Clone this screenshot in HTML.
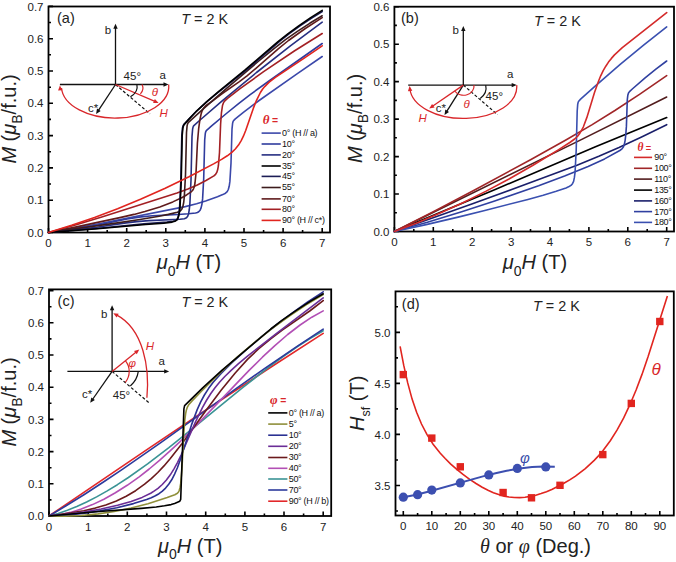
<!DOCTYPE html>
<html><head><meta charset="utf-8"><style>
html,body{margin:0;padding:0;background:#fff;width:676px;height:562px;overflow:hidden}
svg{display:block}
text{font-family:"Liberation Sans", sans-serif;fill:#222}
.tk{font-size:11.5px}
.lab{font-size:20px}
.t2k{font-size:14.4px}
.pl{font-size:14.5px}
.lg{font-size:9px;letter-spacing:-0.3px;fill:#111}
.ins{font-size:11.5px}
.red{fill:#d9262a}
.lgt{fill:#d9262a}
</style></head><body>
<svg width="676" height="562" viewBox="0 0 676 562">
<rect x="48.5" y="6.5" width="281.5" height="226" fill="none" stroke="#000" stroke-width="1.8"/>
<path d="M48.5 232.5V228M87.6 232.5V228M126.7 232.5V228M165.8 232.5V228M204.9 232.5V228M244 232.5V228M283.1 232.5V228M322.2 232.5V228M68 232.5V230M107.2 232.5V230M146.2 232.5V230M185.3 232.5V230M224.5 232.5V230M263.6 232.5V230M302.6 232.5V230M48.5 232.5H53M48.5 200.2H53M48.5 167.9H53M48.5 135.6H53M48.5 103.3H53M48.5 71H53M48.5 38.7H53M48.5 6.4H53M48.5 216.3H51M48.5 184H51M48.5 151.8H51M48.5 119.4H51M48.5 87.2H51M48.5 54.8H51M48.5 22.5H51" stroke="#000" stroke-width="1.6" fill="none"/>
<text x="48.5" y="247" text-anchor="middle" class="tk">0</text>
<text x="87.6" y="247" text-anchor="middle" class="tk">1</text>
<text x="126.7" y="247" text-anchor="middle" class="tk">2</text>
<text x="165.8" y="247" text-anchor="middle" class="tk">3</text>
<text x="204.9" y="247" text-anchor="middle" class="tk">4</text>
<text x="244" y="247" text-anchor="middle" class="tk">5</text>
<text x="283.1" y="247" text-anchor="middle" class="tk">6</text>
<text x="322.2" y="247" text-anchor="middle" class="tk">7</text>
<text x="43.5" y="236.6" text-anchor="end" class="tk">0.0</text>
<text x="43.5" y="204.3" text-anchor="end" class="tk">0.1</text>
<text x="43.5" y="172" text-anchor="end" class="tk">0.2</text>
<text x="43.5" y="139.7" text-anchor="end" class="tk">0.3</text>
<text x="43.5" y="107.4" text-anchor="end" class="tk">0.4</text>
<text x="43.5" y="75.1" text-anchor="end" class="tk">0.5</text>
<text x="43.5" y="42.8" text-anchor="end" class="tk">0.6</text>
<text x="43.5" y="10.5" text-anchor="end" class="tk">0.7</text>
<path d="M48.5 232.5L73.6 228.3L99.1 223.7L185.2 206.6L196.6 203.8L205.6 201.1L217.5 196.8L222.8 194.6L225.5 193.2L227.2 191.7L228.3 189.5L229.2 186.3L229.9 181.4L231 163.1L232 129.1L232.6 123.3L233 121.7L233.6 120.6L235.3 118.9L243.7 112.1L259.8 100L297 73.9L322.2 56.5" stroke="#3b48aa" stroke-width="1.6" fill="none" stroke-linejoin="round" stroke-linecap="round"/>
<path d="M48.5 232.5L72.3 229.1L96.7 225.2L127.2 219L139 217.1L152.4 215.8L178.2 214.5L188.3 213.8L195.6 213L197.4 212.5L198.7 211.8L200.1 210.3L201.1 207.9L201.9 204.3L202.6 198.9L203.7 178.5L204.7 140L205.3 133.5L205.7 131.8L206.3 130.6L211.9 125.6L227 113L238.9 103.4L250.2 94.6L269.7 80.5L322.2 43.5" stroke="#303c9e" stroke-width="1.6" fill="none" stroke-linejoin="round" stroke-linecap="round"/>
<path d="M48.5 232.5L96.6 227.2L126.2 222.9L136.9 221.6L148.8 220.6L180 219.2L184.4 218.7L186.5 217.8L187.7 216.3L188.6 213.7L189.3 209.5L189.9 203.5L191 180.2L192 136.6L192.6 129.2L193 127.3L193.6 125.9L200.1 120L221.6 101.4L256.5 72.5L290.7 45.6L322.2 22.2" stroke="#262f82" stroke-width="1.6" fill="none" stroke-linejoin="round" stroke-linecap="round"/>
<path d="M48.5 232.5L75.4 224.9L102.6 216.7L177 192.9L187.9 188.9L197.3 185L206 180.5L213.9 175.9L215.6 174.3L216.8 172.4L217.7 169.6L218.4 165.7L219.5 152.6L220.6 124.3L221.4 113.2L222.5 105.5L223.3 103.2L224.3 101.4L227.5 98.4L239.7 88.9L263.6 71.7L294.3 51L322.2 33.5" stroke="#a32024" stroke-width="1.6" fill="none" stroke-linejoin="round" stroke-linecap="round"/>
<path d="M48.5 232.5L75.3 227.1L121 217.4L134 214.4L144.9 211.5L159.8 206.9L172.8 201.9L182.2 197.5L186.9 194.7L190.8 192.1L192.5 190.5L193.5 188.8L194.4 186.4L195 183L196 173.1L197.4 143.3L198.7 128.3L199.8 120.3L201.1 114L202.2 110.5L203.7 108.1L205.3 106.2L207.2 104.6L211.6 101.6L221.6 94L239.4 81.6L247 75.9L256.5 67.9L278.2 48.8L288.5 40.5L305.3 28.5L322.2 17.7" stroke="#5f1b1c" stroke-width="1.6" fill="none" stroke-linejoin="round" stroke-linecap="round"/>
<path d="M48.5 232.5L114.1 223.4L139.9 219.5L159.1 216.2L168.4 214.4L177.3 212.2L179.1 211.5L180.5 210.7L181.9 209L182.9 206.4L183.7 202.5L184.3 196.8L185.5 174.8L186.5 132.5L187.1 125.7L187.6 123.9L188.2 122.7L203 109.1L226 88.8L258.2 61.5L274 48.6L285.5 39.7L297 31.6L309.7 23.3L322.2 15.8" stroke="#3d1c1d" stroke-width="1.6" fill="none" stroke-linejoin="round" stroke-linecap="round"/>
<path d="M48.5 232.5L96.3 228.5L143.9 223.9L166.8 222.1L173.3 221.3L175.1 220.7L176.2 220.1L177.5 218.5L178.4 215.8L179.1 211.6L179.7 205.5L180.8 181.7L181.8 135.4L182.5 127.9L183 126L183.7 124.6L195.1 112.5L206.3 102.2L216.9 93.3L245.2 70.9L280.4 40.7L289.3 33.7L300.4 25.7L311.3 18.4L322.2 11.6" stroke="#1c1d55" stroke-width="1.6" fill="none" stroke-linejoin="round" stroke-linecap="round"/>
<path d="M48.5 232.5L94.6 229L145.6 224.5L163.7 223.2L172.1 222.1L174.8 221.3L176.5 220.4L177.8 218.8L178.7 216.1L179.5 211.9L180.1 205.8L181.2 181.8L182.2 135.5L182.9 128L183.4 126.1L184.1 124.6L189 119.1L196 111.7L207.7 100.8L218.5 91.6L245.1 69.9L277.7 41.9L287.8 33.9L298.7 25.9L310.3 17.9L322.2 10.3" stroke="#000000" stroke-width="1.6" fill="none" stroke-linejoin="round" stroke-linecap="round"/>
<path d="M48.5 232.5L71.6 225.3L94.5 217.5L117.6 208.7L140.5 199.3L164.7 188.5L189 176.8L213.6 163.9L221.6 159.4L227.3 155.8L231.8 152.4L235.3 149L238.5 145.1L241.2 140.6L243.4 136.2L245.7 130.5L253.3 108.4L256.5 100.3L260.4 92.5L262.5 89.3L264.7 86.6L269.2 82.1L275.4 77.3L304.6 57.9L322.2 45.8" stroke="#e1251f" stroke-width="1.6" fill="none" stroke-linejoin="round" stroke-linecap="round"/>
<rect x="394.4" y="6.7" width="279.6" height="224.8" fill="none" stroke="#000" stroke-width="1.8"/>
<path d="M394.4 231.5V227M433.3 231.5V227M472.2 231.5V227M511.1 231.5V227M550 231.5V227M588.9 231.5V227M627.8 231.5V227M666.7 231.5V227M413.8 231.5V229M452.8 231.5V229M491.6 231.5V229M530.5 231.5V229M569.4 231.5V229M608.3 231.5V229M647.2 231.5V229M394.4 231.5H398.9M394.4 194H398.9M394.4 156.6H398.9M394.4 119.1H398.9M394.4 81.6H398.9M394.4 44.2H398.9M394.4 6.7H398.9M394.4 212.8H396.9M394.4 175.3H396.9M394.4 137.8H396.9M394.4 100.4H396.9M394.4 62.9H396.9M394.4 25.4H396.9" stroke="#000" stroke-width="1.6" fill="none"/>
<text x="394.4" y="246" text-anchor="middle" class="tk">0</text>
<text x="433.3" y="246" text-anchor="middle" class="tk">1</text>
<text x="472.2" y="246" text-anchor="middle" class="tk">2</text>
<text x="511.1" y="246" text-anchor="middle" class="tk">3</text>
<text x="550" y="246" text-anchor="middle" class="tk">4</text>
<text x="588.9" y="246" text-anchor="middle" class="tk">5</text>
<text x="627.8" y="246" text-anchor="middle" class="tk">6</text>
<text x="666.7" y="246" text-anchor="middle" class="tk">7</text>
<text x="389.4" y="235.6" text-anchor="end" class="tk">0.0</text>
<text x="389.4" y="198.1" text-anchor="end" class="tk">0.1</text>
<text x="389.4" y="160.7" text-anchor="end" class="tk">0.2</text>
<text x="389.4" y="123.2" text-anchor="end" class="tk">0.3</text>
<text x="389.4" y="85.7" text-anchor="end" class="tk">0.4</text>
<text x="389.4" y="48.3" text-anchor="end" class="tk">0.5</text>
<text x="389.4" y="10.8" text-anchor="end" class="tk">0.6</text>
<path d="M394.4 231.5L495.8 189.2L595.5 146.8L666.7 117.6" stroke="#000000" stroke-width="1.6" fill="none" stroke-linejoin="round" stroke-linecap="round"/>
<path d="M394.4 231.5L580.3 140.1L666.7 97" stroke="#521c1d" stroke-width="1.6" fill="none" stroke-linejoin="round" stroke-linecap="round"/>
<path d="M394.4 231.5L434.3 211.2L474.6 190L531 159.5L566.3 139.8L592.2 124.6L614.9 110.5L639.5 94.4L666.7 75.6" stroke="#a02628" stroke-width="1.6" fill="none" stroke-linejoin="round" stroke-linecap="round"/>
<path d="M394.4 231.5L473.2 203.5L545.4 177.1L576.4 165.4L598.8 156.3L619 147.5L641.6 137L666.7 124.7" stroke="#1a1f6a" stroke-width="1.6" fill="none" stroke-linejoin="round" stroke-linecap="round"/>
<path d="M394.4 231.5L427.4 222.2L461.7 211.7L494.7 200.9L538.6 185.7L564.6 176L588.1 166.4L604.6 158.9L619.8 150.5L622 148.9L623.3 147.1L624.3 144.5L625.1 140.6L625.8 134.6L626.4 126.4L627.3 99.6L627.8 95.3L628.5 93L629.5 91.6L632.3 89L645.1 77.8L656.2 68.9L666.7 61" stroke="#3040a0" stroke-width="1.6" fill="none" stroke-linejoin="round" stroke-linecap="round"/>
<path d="M394.4 231.5L426.1 224.6L458.1 217.1L484.8 210.5L527.9 199.4L543.2 195.2L556.2 191.3L566 187.9L569.1 186.5L571 185.4L572.5 183.7L573.6 181.3L574.4 177.4L575.1 171.8L576.2 150.2L577.2 111L577.7 104.4L578.1 102.5L578.7 101.2L580.6 99.1L594.3 86.9L620.2 64.4L643.6 45.2L666.7 26.9" stroke="#3a50b0" stroke-width="1.6" fill="none" stroke-linejoin="round" stroke-linecap="round"/>
<path d="M394.4 231.5L417.4 222.7L440.1 213.1L462.9 202.7L485.7 191.4L509 179L532.6 165.5L558.7 149.6L569.8 142.5L574.6 139L577.4 136.5L579.5 133.8L581.4 130.7L583.4 126.8L586.9 117.4L594.5 92.6L598.4 81.5L600.7 75.8L603.2 70.6L605.8 66.2L608.5 62.1L611.4 58.4L614.5 54.9L622.3 47.7L666.7 12.6" stroke="#d42a2a" stroke-width="1.6" fill="none" stroke-linejoin="round" stroke-linecap="round"/>
<rect x="49" y="289.4" width="282.2" height="226.6" fill="none" stroke="#000" stroke-width="1.8"/>
<path d="M49 516V511.5M88.2 516V511.5M127.3 516V511.5M166.5 516V511.5M205.7 516V511.5M244.9 516V511.5M284 516V511.5M323.2 516V511.5M68.6 516V513.5M107.8 516V513.5M146.9 516V513.5M186.1 516V513.5M225.3 516V513.5M264.4 516V513.5M303.6 516V513.5M49 516H53.5M49 483.8H53.5M49 451.6H53.5M49 419.4H53.5M49 387.2H53.5M49 355H53.5M49 322.8H53.5M49 290.6H53.5M49 499.9H51.5M49 467.7H51.5M49 435.5H51.5M49 403.3H51.5M49 371.1H51.5M49 338.9H51.5M49 306.7H51.5" stroke="#000" stroke-width="1.6" fill="none"/>
<text x="49" y="530.5" text-anchor="middle" class="tk">0</text>
<text x="88.2" y="530.5" text-anchor="middle" class="tk">1</text>
<text x="127.3" y="530.5" text-anchor="middle" class="tk">2</text>
<text x="166.5" y="530.5" text-anchor="middle" class="tk">3</text>
<text x="205.7" y="530.5" text-anchor="middle" class="tk">4</text>
<text x="244.9" y="530.5" text-anchor="middle" class="tk">5</text>
<text x="284" y="530.5" text-anchor="middle" class="tk">6</text>
<text x="323.2" y="530.5" text-anchor="middle" class="tk">7</text>
<text x="44" y="520.1" text-anchor="end" class="tk">0.0</text>
<text x="44" y="487.9" text-anchor="end" class="tk">0.1</text>
<text x="44" y="455.7" text-anchor="end" class="tk">0.2</text>
<text x="44" y="423.5" text-anchor="end" class="tk">0.3</text>
<text x="44" y="391.3" text-anchor="end" class="tk">0.4</text>
<text x="44" y="359.1" text-anchor="end" class="tk">0.5</text>
<text x="44" y="326.9" text-anchor="end" class="tk">0.6</text>
<text x="44" y="294.7" text-anchor="end" class="tk">0.7</text>
<path d="M49 516L148.4 448.6L211.9 406L270.3 367.5L323.2 333.4" stroke="#e2282a" stroke-width="1.6" fill="none" stroke-linejoin="round" stroke-linecap="round"/>
<path d="M49 516L58.2 513.4L67.4 510.2L76.8 506.5L86.6 502L96.6 496.9L106.8 491.1L117.4 484.7L128.4 477.5L147.6 463.9L168.9 447.6L189.7 430.9L241.7 388.3L269.7 366.4L284.2 355.8L297.9 346.3L310.8 338.1L323.2 330.8" stroke="#3a9395" stroke-width="1.6" fill="none" stroke-linejoin="round" stroke-linecap="round"/>
<path d="M49 516L66.1 505.8L83.9 494.7L102.7 482.5L122.7 469.1L161.5 442.1L235 389.4L264.8 368.4L295.6 347.3L323.2 329.2" stroke="#2c3a9c" stroke-width="1.6" fill="none" stroke-linejoin="round" stroke-linecap="round"/>
<path d="M49 516L59.6 514.7L70.4 512.4L81.3 509L92.5 504.6L103.9 499.2L115.4 492.8L127.2 485.3L139.2 476.8L149.2 469L159.5 460.4L170.1 450.9L180.9 440.8L200.7 420.9L249.1 370.4L262.4 357.2L274.6 345.8L287.7 334.5L300.1 325L311.8 317.2L323.2 310.9" stroke="#b24fb5" stroke-width="1.6" fill="none" stroke-linejoin="round" stroke-linecap="round"/>
<path d="M49 516L71.3 512.8L83.7 510.7L95.3 508.1L105.8 505L116.4 501L126.2 496.3L135.6 490.7L144.6 484.2L151.3 478.6L157.8 472.5L164 465.9L170.3 458.6L182.1 443.5L207.6 408.3L221.3 390.1L235 373.2L247.5 359.4L258.5 348.9L270.7 338.8L282.2 330.2L309.7 311L323.2 300.6" stroke="#6b1a1c" stroke-width="1.6" fill="none" stroke-linejoin="round" stroke-linecap="round"/>
<path d="M49 516L66.4 514.4L83.7 512.1L101.1 509L117.6 505.2L131.1 501.4L142.1 497.4L150.7 493.2L154.4 490.9L158 488.4L162.3 484.5L166.4 480L170.3 474.8L174 468.8L177.6 462.3L181.1 455L195.4 422.1L202.3 407.8L206.4 400.5L210.5 394L214.8 388L219.5 382.2L224.8 376.5L231.1 370.4L238.5 363.7L247.5 356.2L276.3 333.6L323.2 297.9" stroke="#6b2d96" stroke-width="1.6" fill="none" stroke-linejoin="round" stroke-linecap="round"/>
<path d="M49 516L65.9 515.1L82.9 513.4L100 510.9L116.8 507.7L133.5 503.6L146.6 499.6L151.3 497.7L155.4 495.8L159 493.7L162.1 491.4L165.6 488.1L168.7 484.3L171.7 479.8L174.6 474.1L177.4 467.7L180.1 460.2L191.5 424.9L197.2 409.6L200.7 401.9L204.4 395L208.5 388.6L213.2 382.3L221.1 373.4L231.7 362.9L245.8 350.1L261.6 336.7L276.9 324.5L292.4 312.8L307.7 302L323.2 291.8" stroke="#2b3192" stroke-width="1.6" fill="none" stroke-linejoin="round" stroke-linecap="round"/>
<path d="M49 516L65.3 516.2L81.5 515.5L98 513.9L114.3 511.5L131.1 508.1L148 503.7L167.2 497.5L174.8 494.7L177.4 493.3L178.5 492L179.3 490.3L180.1 487.2L180.7 483.4L181.9 469.6L183.8 433.3L184.8 420.1L185.6 413.8L186.4 409.9L187.4 407.1L188.7 404.8L192.1 400.9L201.7 391L220.5 372.5L237.7 356.7L255.2 341.8L272.2 328.4L289.3 316L306.1 304.9L323.2 294.6" stroke="#8f8f3a" stroke-width="1.6" fill="none" stroke-linejoin="round" stroke-linecap="round"/>
<path d="M49 516L95.8 511.7L141.3 508.4L156.2 507L164.5 505.8L171.1 504.6L174.6 503.4L179.8 501.2L180.7 499.3L183.9 408.8L184.6 405.6L202.7 387.9L222.1 370.1L270.8 329L281.9 320.4L296.3 310.4L310.2 301.4L323.2 293.8" stroke="#000000" stroke-width="1.6" fill="none" stroke-linejoin="round" stroke-linecap="round"/>
<rect x="395.5" y="291.4" width="278.3" height="224.1" fill="none" stroke="#000" stroke-width="1.8"/>
<path d="M403.3 515.5V511M431.8 515.5V511M460.3 515.5V511M488.8 515.5V511M517.3 515.5V511M545.8 515.5V511M574.3 515.5V511M602.8 515.5V511M631.3 515.5V511M659.8 515.5V511M417.6 515.5V513M446.1 515.5V513M474.6 515.5V513M503.1 515.5V513M531.5 515.5V513M560 515.5V513M588.5 515.5V513M617 515.5V513M645.5 515.5V513M395.5 485.5H400M395.5 434.4H400M395.5 383.4H400M395.5 332.4H400M395.5 511H398M395.5 460H398M395.5 408.9H398M395.5 357.9H398M395.5 306.8H398" stroke="#000" stroke-width="1.6" fill="none"/>
<text x="403.3" y="530" text-anchor="middle" class="tk">0</text>
<text x="431.8" y="530" text-anchor="middle" class="tk">10</text>
<text x="460.3" y="530" text-anchor="middle" class="tk">20</text>
<text x="488.8" y="530" text-anchor="middle" class="tk">30</text>
<text x="517.3" y="530" text-anchor="middle" class="tk">40</text>
<text x="545.8" y="530" text-anchor="middle" class="tk">50</text>
<text x="574.3" y="530" text-anchor="middle" class="tk">60</text>
<text x="602.8" y="530" text-anchor="middle" class="tk">70</text>
<text x="631.3" y="530" text-anchor="middle" class="tk">80</text>
<text x="659.8" y="530" text-anchor="middle" class="tk">90</text>
<text x="390.5" y="489.6" text-anchor="end" class="tk">3.5</text>
<text x="390.5" y="438.6" text-anchor="end" class="tk">4.0</text>
<text x="390.5" y="387.5" text-anchor="end" class="tk">4.5</text>
<text x="390.5" y="336.5" text-anchor="end" class="tk">5.0</text>
<path d="M400.1 346.4L403.7 365.2L407.7 382.9L412.1 399.1L416.6 412.2L421.5 424L426.9 434.4L433.1 444.2L440.3 453.2L445.2 458.5L450.5 463.8L456.8 469.3L463 474.4L469.7 479.3L476 483.5L482.2 487.3L488 490.3L493.4 492.7L498.7 494.6L504.1 496.1L509 497L514.3 497.5L519.7 497.6L525 497.2L530.4 496.4L535.8 495.2L541.1 493.6L546.5 491.7L552.3 489.3L563.9 483.3L569.7 479.9L575.5 476.1L585.3 468.6L594.2 460.4L598.7 455.6L602.7 451L610.3 440.8L617 430.2L623.7 417.9L629.9 404.7L636.2 389.8L642 374.4L648.2 356.3L667.4 295.9" stroke="#e1251f" stroke-width="1.6" fill="none"/>
<path d="M403.3 497.2L415 494.9L428.1 491.7L482.9 476.4L495.5 473.2L506.7 470.8L519.8 468.5L532 467.1L543.7 466.5L554.8 466.8" stroke="#3c4fb0" stroke-width="2" fill="none"/>
<rect x="399.6" y="370.9" width="7.4" height="7.4" fill="#e1251f"/>
<rect x="428.1" y="434.4" width="7.4" height="7.4" fill="#e1251f"/>
<rect x="456.6" y="463.1" width="7.4" height="7.4" fill="#e1251f"/>
<rect x="499.4" y="488.8" width="7.4" height="7.4" fill="#e1251f"/>
<rect x="527.8" y="494.1" width="7.4" height="7.4" fill="#e1251f"/>
<rect x="556.3" y="481.6" width="7.4" height="7.4" fill="#e1251f"/>
<rect x="599.1" y="450.9" width="7.4" height="7.4" fill="#e1251f"/>
<rect x="627.6" y="399.7" width="7.4" height="7.4" fill="#e1251f"/>
<rect x="656.1" y="317.8" width="7.4" height="7.4" fill="#e1251f"/>
<circle cx="403.3" cy="497.2" r="4.6" fill="#3c4fb0"/>
<circle cx="417.6" cy="494.7" r="4.6" fill="#3c4fb0"/>
<circle cx="431.8" cy="490.1" r="4.6" fill="#3c4fb0"/>
<circle cx="460.3" cy="482.9" r="4.6" fill="#3c4fb0"/>
<circle cx="488.8" cy="474.9" r="4.6" fill="#3c4fb0"/>
<circle cx="517.3" cy="468.4" r="4.6" fill="#3c4fb0"/>
<circle cx="545.8" cy="466.9" r="4.6" fill="#3c4fb0"/>
<text transform="translate(16.2,119) rotate(-90)" class="lab" text-anchor="middle"><tspan font-style="italic">M</tspan> (<tspan font-style="italic">μ</tspan><tspan font-size="14" dy="6">B</tspan><tspan dy="-6">/f.u.)</tspan></text>
<text transform="translate(361.5,118.5) rotate(-90)" class="lab" text-anchor="middle"><tspan font-style="italic">M</tspan> (<tspan font-style="italic">μ</tspan><tspan font-size="14" dy="6">B</tspan><tspan dy="-6">/f.u.)</tspan></text>
<text transform="translate(16.2,402) rotate(-90)" class="lab" text-anchor="middle"><tspan font-style="italic">M</tspan> (<tspan font-style="italic">μ</tspan><tspan font-size="14" dy="6">B</tspan><tspan dy="-6">/f.u.)</tspan></text>
<text transform="translate(364.2,403.3) rotate(-90)" class="lab" text-anchor="middle"><tspan font-style="italic">H</tspan><tspan font-size="12.5" dy="6">sf</tspan><tspan dy="-6"> (T)</tspan></text>
<text x="188.9" y="269.4" class="lab" text-anchor="middle"><tspan font-style="italic">μ</tspan><tspan font-size="14" dy="6.5">0</tspan><tspan dy="-6.5" font-style="italic">H</tspan> (T)</text>
<text x="535" y="269.4" class="lab" text-anchor="middle"><tspan font-style="italic">μ</tspan><tspan font-size="14" dy="6.5">0</tspan><tspan dy="-6.5" font-style="italic">H</tspan> (T)</text>
<text x="190.2" y="552.8" class="lab" text-anchor="middle"><tspan font-style="italic">μ</tspan><tspan font-size="14" dy="6.5">0</tspan><tspan dy="-6.5" font-style="italic">H</tspan> (T)</text>
<text x="535.5" y="553.4" class="lab" text-anchor="middle"><tspan font-family="Liberation Serif" font-style="italic">θ</tspan> or <tspan font-family="Liberation Serif" font-style="italic">φ</tspan> (Deg.)</text>
<text x="181.2" y="23.7" class="t2k" text-anchor="start" ><tspan font-style="italic">T</tspan> = 2 K</text>
<text x="534" y="26" class="t2k" text-anchor="start" ><tspan font-style="italic">T</tspan> = 2 K</text>
<text x="181.4" y="306.7" class="t2k" text-anchor="start" ><tspan font-style="italic">T</tspan> = 2 K</text>
<text x="533" y="310.8" class="t2k" text-anchor="start" ><tspan font-style="italic">T</tspan> = 2 K</text>
<text x="57" y="23" class="pl" text-anchor="start" >(a)</text>
<text x="401" y="23.2" class="pl" text-anchor="start" >(b)</text>
<text x="57.6" y="305.6" class="pl" text-anchor="start" >(c)</text>
<text x="401.8" y="308.6" class="pl" text-anchor="start" >(d)</text>
<path d="M261.6 133.1H280.8" stroke="#3b48aa" stroke-width="1.6"/>
<text x="282" y="136" class="lg" text-anchor="start" >0° (H // a)</text>
<path d="M261.6 144H280.8" stroke="#303c9e" stroke-width="1.6"/>
<text x="282" y="146.9" class="lg" text-anchor="start" >10°</text>
<path d="M261.6 154.9H280.8" stroke="#262f82" stroke-width="1.6"/>
<text x="282" y="157.8" class="lg" text-anchor="start" >20°</text>
<path d="M261.6 166H280.8" stroke="#000" stroke-width="1.6"/>
<text x="282" y="168.9" class="lg" text-anchor="start" >35°</text>
<path d="M261.6 176.4H280.8" stroke="#1c1d55" stroke-width="1.6"/>
<text x="282" y="179.3" class="lg" text-anchor="start" >45°</text>
<path d="M261.6 187.5H280.8" stroke="#3d1c1d" stroke-width="1.6"/>
<text x="282" y="190.4" class="lg" text-anchor="start" >55°</text>
<path d="M261.6 198.9H280.8" stroke="#5f1b1c" stroke-width="1.6"/>
<text x="282" y="201.8" class="lg" text-anchor="start" >70°</text>
<path d="M261.6 209.3H280.8" stroke="#a32024" stroke-width="1.6"/>
<text x="282" y="212.2" class="lg" text-anchor="start" >80°</text>
<path d="M261.6 220.4H280.8" stroke="#e1251f" stroke-width="1.6"/>
<text x="282" y="223.3" class="lg" text-anchor="start" >90° (H // c*)</text>
<text x="262.7" y="124.2" class="lgt" text-anchor="start" font-size="13"><tspan font-family="Liberation Serif" font-style="italic" font-weight="bold">θ</tspan><tspan font-weight="bold" font-size="10.4" dx="2.6">=</tspan></text>
<path d="M634 157.4H652.1" stroke="#d42a2a" stroke-width="1.6"/>
<text x="654.2" y="160.3" class="lg" text-anchor="start" >90°</text>
<path d="M634 168.3H652.1" stroke="#a02628" stroke-width="1.6"/>
<text x="654.2" y="171.2" class="lg" text-anchor="start" >100°</text>
<path d="M634 179.1H652.1" stroke="#521c1d" stroke-width="1.6"/>
<text x="654.2" y="182" class="lg" text-anchor="start" >110°</text>
<path d="M634 190.1H652.1" stroke="#000" stroke-width="1.6"/>
<text x="654.2" y="193" class="lg" text-anchor="start" >135°</text>
<path d="M634 200.9H652.1" stroke="#1a1f6a" stroke-width="1.6"/>
<text x="654.2" y="203.8" class="lg" text-anchor="start" >160°</text>
<path d="M634 211.6H652.1" stroke="#3040a0" stroke-width="1.6"/>
<text x="654.2" y="214.5" class="lg" text-anchor="start" >170°</text>
<path d="M634 222.4H652.1" stroke="#3a50b0" stroke-width="1.6"/>
<text x="654.2" y="225.3" class="lg" text-anchor="start" >180°</text>
<text x="637.4" y="151.4" class="lgt" text-anchor="start" font-size="11.5"><tspan font-family="Liberation Serif" font-style="italic" font-weight="bold">θ</tspan><tspan font-weight="bold" font-size="9.2" dx="2.3">=</tspan></text>
<path d="M268.2 412.9H287.4" stroke="#000" stroke-width="1.6"/>
<text x="288.7" y="415.8" class="lg" text-anchor="start" >0° (H // a)</text>
<path d="M268.2 424.1H287.4" stroke="#8f8f3a" stroke-width="1.6"/>
<text x="288.7" y="427" class="lg" text-anchor="start" >5°</text>
<path d="M268.2 435.2H287.4" stroke="#2b3192" stroke-width="1.6"/>
<text x="288.7" y="438.1" class="lg" text-anchor="start" >10°</text>
<path d="M268.2 446.3H287.4" stroke="#6b2d96" stroke-width="1.6"/>
<text x="288.7" y="449.2" class="lg" text-anchor="start" >20°</text>
<path d="M268.2 457.5H287.4" stroke="#6b1a1c" stroke-width="1.6"/>
<text x="288.7" y="460.4" class="lg" text-anchor="start" >30°</text>
<path d="M268.2 468.3H287.4" stroke="#b24fb5" stroke-width="1.6"/>
<text x="288.7" y="471.2" class="lg" text-anchor="start" >40°</text>
<path d="M268.2 479H287.4" stroke="#3a9395" stroke-width="1.6"/>
<text x="288.7" y="481.9" class="lg" text-anchor="start" >50°</text>
<path d="M268.2 490H287.4" stroke="#2c3a9c" stroke-width="1.6"/>
<text x="288.7" y="492.9" class="lg" text-anchor="start" >70°</text>
<path d="M268.2 501.2H287.4" stroke="#e2282a" stroke-width="1.6"/>
<text x="288.7" y="504.1" class="lg" text-anchor="start" >90° (H // b)</text>
<text x="270" y="403.8" class="lgt" text-anchor="start" font-size="13"><tspan font-family="Liberation Serif" font-style="italic" font-weight="bold">φ</tspan><tspan font-weight="bold" font-size="10.4" dx="2.6">=</tspan></text>
<path d="M59.9 84.5H165.5M115.5 84.5V27" stroke="#111" stroke-width="1.3" fill="none"/>
<path d="M168.5 84.5L163.5 86.7L163.5 82.3Z" fill="#111"/>
<path d="M115.5 23.8L117.7 28.8L113.3 28.8Z" fill="#111"/>
<path d="M115.5 84.5L98.3 110.6" stroke="#111" stroke-width="1.3" fill="none"/>
<path d="M96.1 113.9L97 108.5L100.7 110.9Z" fill="#111"/>
<path d="M115.5 84.5L150 113.9" stroke="#111" stroke-width="1.2" stroke-dasharray="3 2" fill="none"/>
<path d="M115.5 84.5L154.9 101.3" stroke="#d9262a" stroke-width="1.3" fill="none"/>
<path d="M158.6 102.9L153.1 103L154.9 98.9Z" fill="#d9262a"/>
<path d="M168.7 84.5A53.2 31.5 0 0 1 61.5 88" stroke="#d9262a" stroke-width="1.3" fill="none"/>
<path d="M59.9 85.5L62.4 90.3L58.1 90.6Z" fill="#d9262a"/>
<path d="M136.9 84.5Q138.6 92 130.4 96.8" stroke="#111" stroke-width="1.2" fill="none"/>
<path d="M142 84.5Q144.6 89.5 140.4 93.8" stroke="#d9262a" stroke-width="1.2" fill="none"/>
<text x="107.9" y="33.7" class="ins" text-anchor="middle" >b</text>
<text x="162.7" y="78.5" class="ins" text-anchor="middle" >a</text>
<text x="132.3" y="79.6" class="ins" text-anchor="middle" >45°</text>
<text x="154.8" y="96" class="ins red" text-anchor="middle" font-family="Liberation Serif" font-style="italic" font-size="12">θ</text>
<text x="163.7" y="116.8" class="ins red" text-anchor="middle" font-style="italic" font-size="12">H</text>
<text x="93.2" y="112" class="ins" text-anchor="middle" >c*</text>
<path d="M408.2 85.1H513.5M463.3 85.1V29" stroke="#111" stroke-width="1.3" fill="none"/>
<path d="M516.7 85.1L511.7 87.3L511.7 82.9Z" fill="#111"/>
<path d="M463.3 26L465.5 31L461.1 31Z" fill="#111"/>
<path d="M463.3 85.1L446.6 111.6" stroke="#111" stroke-width="1.3" fill="none"/>
<path d="M444.5 115L445.3 109.6L449 111.9Z" fill="#111"/>
<path d="M463.3 85.1L497.5 114.6" stroke="#111" stroke-width="1.2" stroke-dasharray="3 2" fill="none"/>
<path d="M463.3 85.1L432.5 106.3" stroke="#d9262a" stroke-width="1.3" fill="none"/>
<path d="M429.2 108.6L432.1 104L434.6 107.6Z" fill="#d9262a"/>
<path d="M516.7 85.1A53.4 31.6 0 0 1 409.9 88.5" stroke="#d9262a" stroke-width="1.3" fill="none"/>
<path d="M409.6 86L412.3 90.7L407.9 91.2Z" fill="#d9262a"/>
<path d="M474 85.1A10.5 9.2 0 0 1 454.7 91" stroke="#d9262a" stroke-width="1.2" fill="none"/>
<path d="M485.7 85.1Q487.6 93 480.2 98.5" stroke="#111" stroke-width="1.2" fill="none"/>
<text x="455.8" y="33.6" class="ins" text-anchor="middle" >b</text>
<text x="510.3" y="78" class="ins" text-anchor="middle" >a</text>
<text x="494.3" y="100.3" class="ins" text-anchor="middle" >45°</text>
<text x="466.5" y="107.8" class="ins red" text-anchor="middle" font-family="Liberation Serif" font-style="italic" font-size="12">θ</text>
<text x="422.7" y="121.7" class="ins red" text-anchor="middle" font-style="italic" font-size="12">H</text>
<text x="440.9" y="112.2" class="ins" text-anchor="middle" >c*</text>
<path d="M67.4 371.4H166M112.1 371.4V308.5" stroke="#111" stroke-width="1.3" fill="none"/>
<path d="M169.2 371.4L164.2 373.6L164.2 369.2Z" fill="#111"/>
<path d="M112.1 305.2L114.3 310.2L109.9 310.2Z" fill="#111"/>
<path d="M112.1 371.4L92.5 399.5" stroke="#111" stroke-width="1.3" fill="none"/>
<path d="M90.2 402.8L91.3 397.4L94.9 400Z" fill="#111"/>
<path d="M112.1 371.4L149 402.8" stroke="#111" stroke-width="1.2" stroke-dasharray="3 2" fill="none"/>
<path d="M112.1 371.4L136.2 352" stroke="#d9262a" stroke-width="1.3" fill="none"/>
<path d="M139.3 349.5L136.8 354.3L134 350.9Z" fill="#d9262a"/>
<path d="M146.9 397.8C149.8 368 143.5 329 116.5 314.8" stroke="#d9262a" stroke-width="1.3" fill="none"/>
<path d="M113.3 313.3L118.7 313.8L116.6 317.6Z" fill="#d9262a"/>
<path d="M125.3 382.4A17 17 0 0 0 125.3 360.7" stroke="#d9262a" stroke-width="1.2" fill="none"/>
<path d="M138.3 371.4A26 24 0 0 1 130.3 386" stroke="#111" stroke-width="1.2" fill="none"/>
<text x="104.1" y="318.2" class="ins" text-anchor="middle" >b</text>
<text x="161.8" y="365.2" class="ins" text-anchor="middle" >a</text>
<text x="121.5" y="398.7" class="ins" text-anchor="middle" >45°</text>
<text x="150" y="350.1" class="ins red" text-anchor="middle" font-style="italic" font-size="12">H</text>
<text x="132.3" y="367.2" class="ins red" text-anchor="middle" font-family="Liberation Serif" font-style="italic" font-size="12">φ</text>
<text x="87" y="398.3" class="ins" text-anchor="middle" >c*</text>
<text x="656" y="374.5" class="red" text-anchor="middle" font-family="Liberation Serif" font-style="italic" font-size="17">θ</text>
<text x="524.9" y="462.5" class="" text-anchor="middle" font-family="Liberation Serif" font-style="italic" font-size="15" style="fill:#3a4daa">φ</text>
</svg></body></html>
